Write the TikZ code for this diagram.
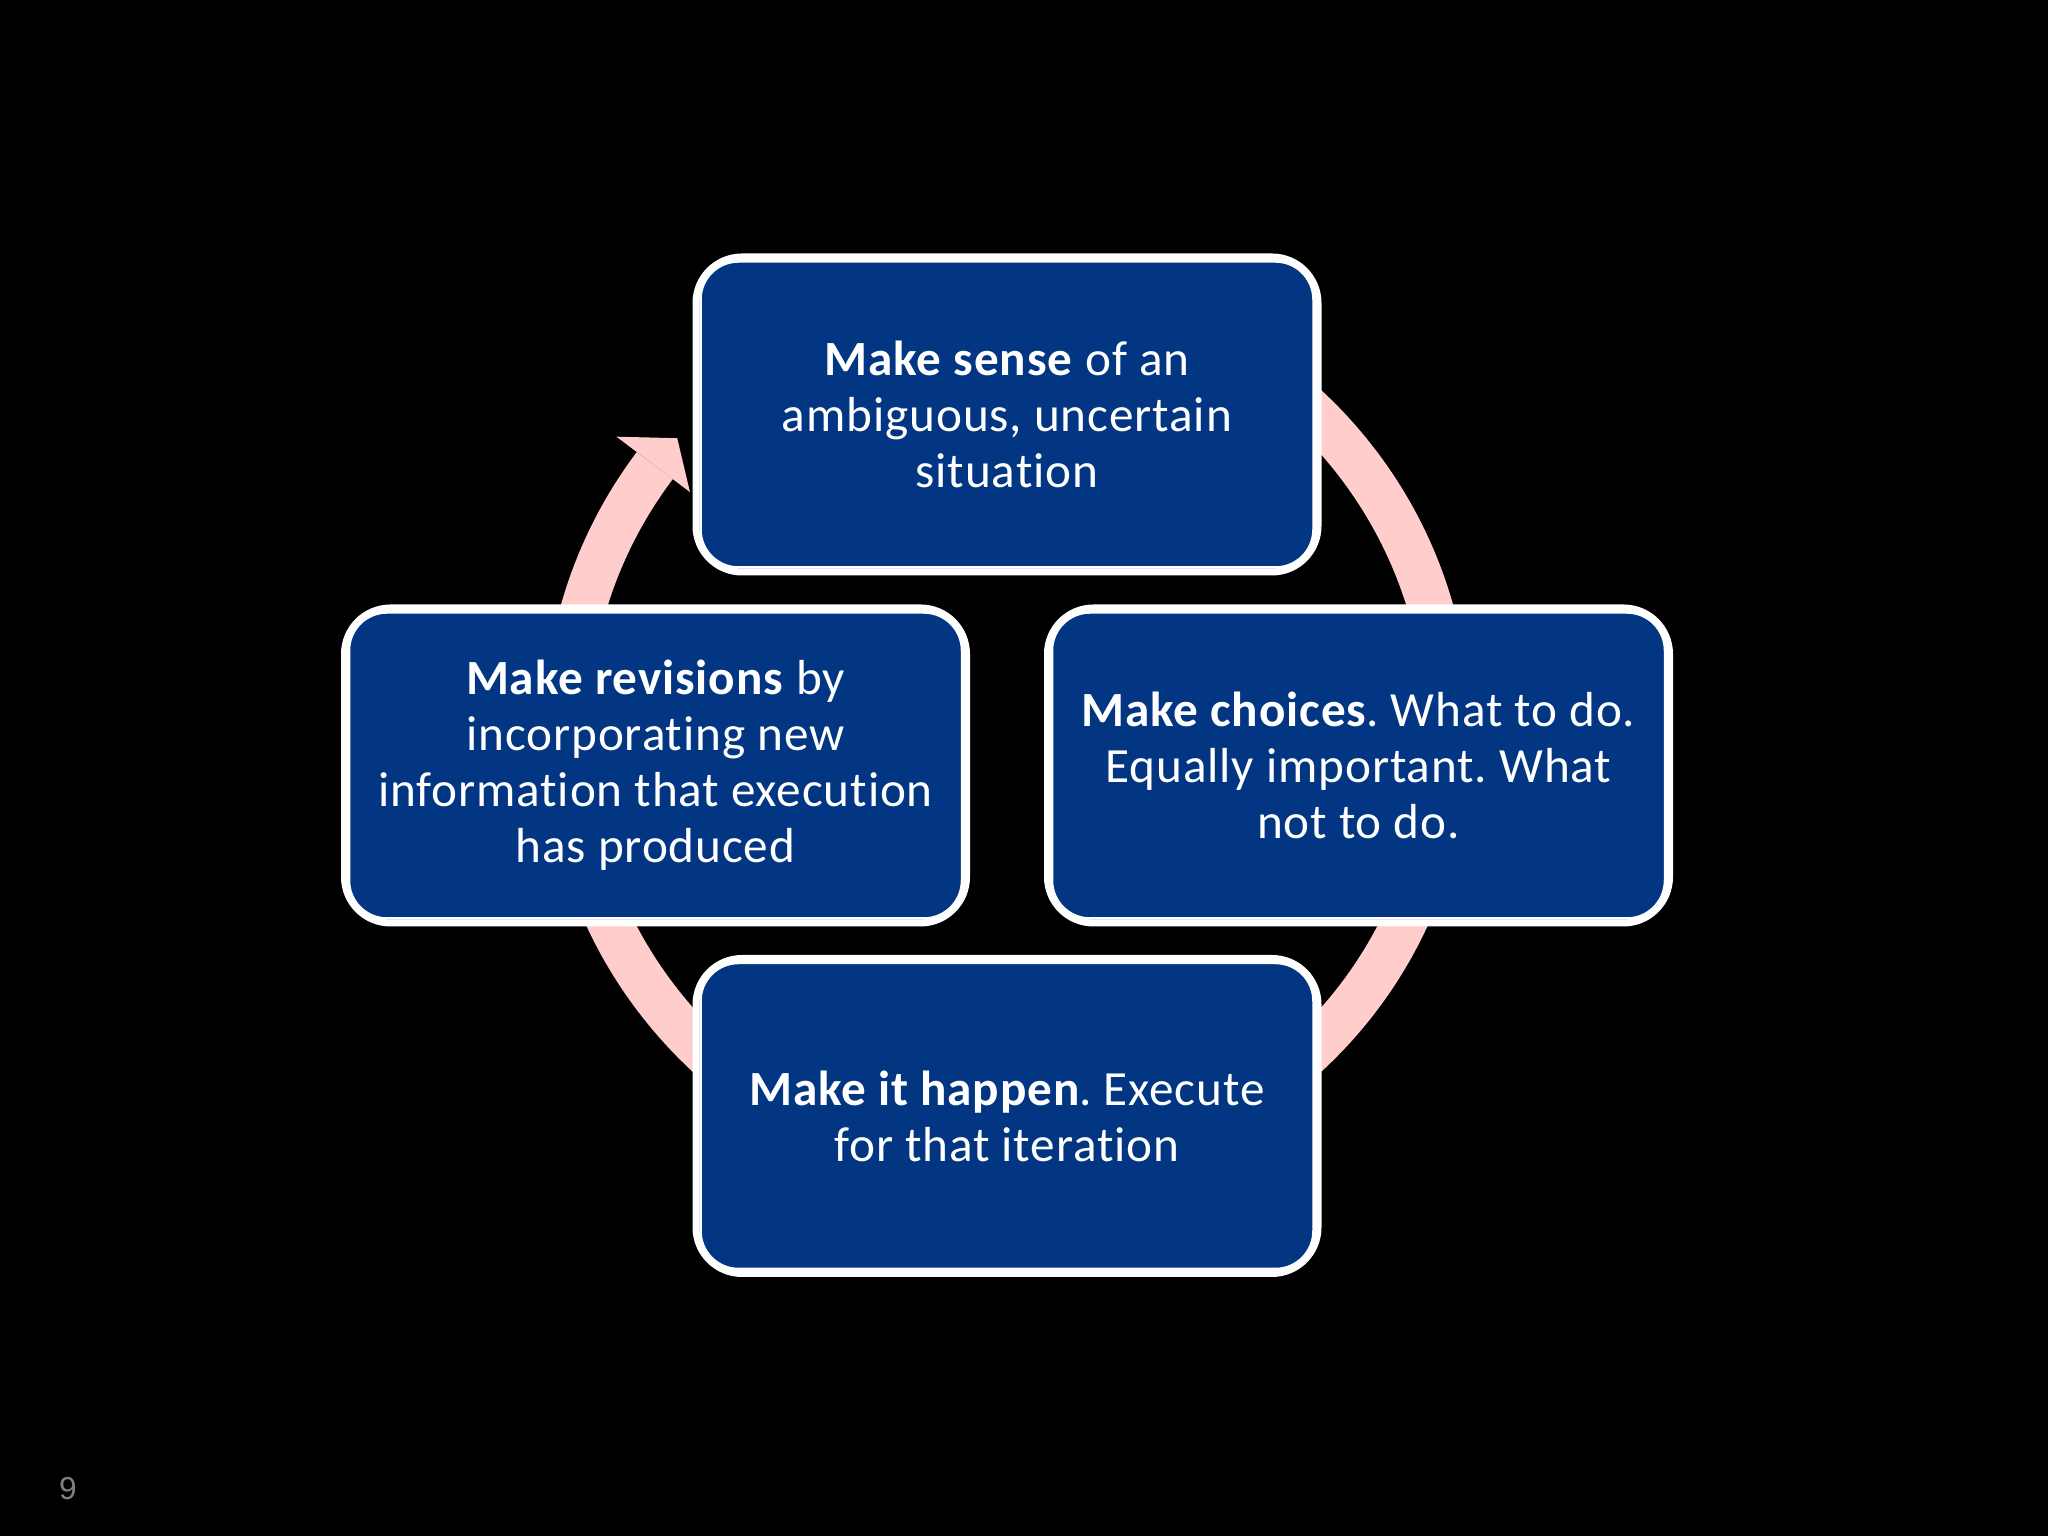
\documentclass[tikz,border=0pt]{standalone}
\usepackage{fontspec}
\setmainfont{Carlito}[LetterSpace=1.8,Ligatures=NoCommon]
\newfontfamily\pagefont{Liberation Sans}
\frenchspacing
\usetikzlibrary{calc}
\definecolor{SlideBlue}{RGB}{3,54,130}
\definecolor{LoopPink}{RGB}{255,206,204}
\definecolor{PageGray}{RGB}{128,128,128}
\tikzset{
  stage/.style={rounded corners=0.46cm,fill=SlideBlue,draw=white,
    line width=0.07cm,minimum width=6.22cm,minimum height=3.15cm,
    text=white,align=center,inner sep=0pt,
    font=\fontsize{14}{15.9}\selectfont},
  innerline/.style={rounded corners=0.38cm,draw=white,line width=0.025cm}
}
\begin{document}
\begin{tikzpicture}
  \fill[black] (0,0) rectangle (20.48,15.36);
  \useasboundingbox (0,0) rectangle (20.48,15.36);

  % circular arrow behind the boxes
  \coordinate (hub) at (10.07,8.05);
  \draw[LoopPink,line width=0.45cm]
    ([shift={(128:4.41)}]hub) arc[start angle=128,end angle=-217,radius=4.41];
  \fill[LoopPink] ([shift={(143:4.89)}]hub) -- ([shift={(138.4:4.41)}]hub)
    -- ([shift={(143:3.97)}]hub) -- cycle;

  % the four stages
  \node[stage] (sense) at (10.07,11.215)
    {\textbf{Make sense} of an\\ambiguous, uncertain\\situation};
  \node[stage] (choices) at (13.585,7.705)
    {\textbf{Make choices}. What to do.\\Equally important. What\\not to do.};
  \node[stage] (happen) at (10.07,4.20)
    {\textbf{Make it happen}. Execute\\for that iteration};
  \node[stage] (revise) at (6.555,7.705)
    {\textbf{Make revisions} by\\incorporating new\\information that execution\\has produced};

  \foreach \n in {sense,choices,happen,revise}
    \draw[innerline] ([shift={(0.08,0.08)}]\n.south west)
      rectangle ([shift={(-0.08,-0.08)}]\n.north east);

  \node[text=PageGray,font=\pagefont\fontsize{9}{10}\selectfont] (pagenum)
    at (0.68,0.47) {9};
\end{tikzpicture}
\end{document}
